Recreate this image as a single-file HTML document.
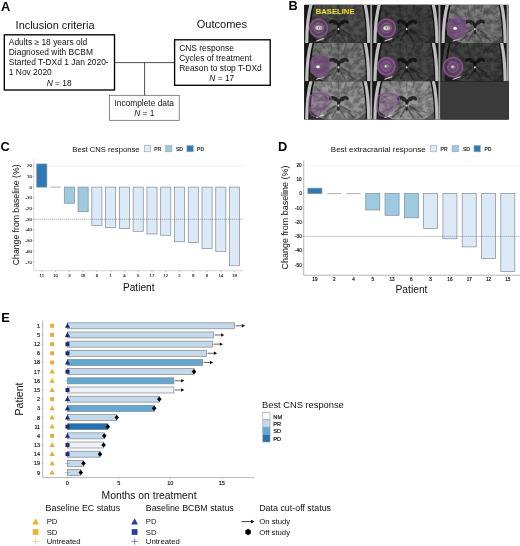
<!DOCTYPE html>
<html><head><meta charset="utf-8"><title>Figure</title>
<style>html,body{margin:0;padding:0;background:#fff}svg{display:block}text{font-family:"Liberation Sans",sans-serif}</style>
</head><body>
<svg width="520" height="546" viewBox="0 0 520 546">
<rect width="520" height="546" fill="#fff"/>
<text x="1.10" y="10.50" font-size="12.80" text-anchor="start" font-weight="bold" fill="#000">A</text>
<text x="15.60" y="28.50" font-size="10.93" text-anchor="start" fill="#111">Inclusion criteria</text>
<rect x="4.3" y="34.8" width="110.2" height="55.2" fill="none" stroke="#000" stroke-width="1.35"/>
<text x="8.80" y="44.90" font-size="8.42" text-anchor="start" fill="#111">Adults ≥ 18 years old</text>
<text x="8.80" y="54.90" font-size="8.42" text-anchor="start" fill="#111">Diagnosed with BCBM</text>
<text x="8.80" y="64.90" font-size="8.42" text-anchor="start" fill="#111">Started T-DXd 1 Jan 2020-</text>
<text x="8.80" y="74.90" font-size="8.42" text-anchor="start" fill="#111">1 Nov 2020</text>
<text x="59.2" y="85.5" font-size="8.42" text-anchor="middle" fill="#111"><tspan font-style="italic">N</tspan> = 18</text>
<path d="M114.5 62.6H174.6M144.6 62.6V95.3" stroke="#222" stroke-width="0.8" fill="none"/>
<rect x="109.5" y="95.3" width="69.7" height="25" fill="none" stroke="#555" stroke-width="0.7"/>
<text x="144.20" y="105.70" font-size="8.40" text-anchor="middle" fill="#111">Incomplete data</text>
<text x="144.3" y="115.7" font-size="8.42" text-anchor="middle" fill="#111"><tspan font-style="italic">N</tspan> = 1</text>
<text x="196.80" y="28.00" font-size="11.02" text-anchor="start" fill="#111">Outcomes</text>
<rect x="174.6" y="39.8" width="95.6" height="45.5" fill="none" stroke="#000" stroke-width="1.35"/>
<text x="179.20" y="50.60" font-size="8.42" text-anchor="start" fill="#111">CNS response</text>
<text x="179.20" y="60.65" font-size="8.42" text-anchor="start" fill="#111">Cycles of treatment</text>
<text x="179.20" y="70.70" font-size="8.42" text-anchor="start" fill="#111">Reason to stop T-DXd</text>
<text x="221.8" y="80.8" font-size="8.42" text-anchor="middle" fill="#111"><tspan font-style="italic">N</tspan> = 17</text>
<text x="288.40" y="9.70" font-size="12.80" text-anchor="start" font-weight="bold" fill="#000">B</text>
<defs><clipPath id="tc"><rect width="68.2" height="38.25"/></clipPath><filter id="bl" x="-5%" y="-5%" width="110%" height="110%"><feGaussianBlur stdDeviation="0.5"/></filter><filter id="nz0" x="0" y="0" width="100%" height="100%"><feTurbulence type="fractalNoise" baseFrequency="0.16 0.2" numOctaves="3" seed="2"/><feColorMatrix type="matrix" values="0 0 0 0 0 0 0 0 0 0 0 0 0 0 0 1.5 0 0 0 -0.45"/></filter><filter id="nz1" x="0" y="0" width="100%" height="100%"><feTurbulence type="fractalNoise" baseFrequency="0.16 0.2" numOctaves="3" seed="9"/><feColorMatrix type="matrix" values="0 0 0 0 0 0 0 0 0 0 0 0 0 0 0 1.5 0 0 0 -0.45"/></filter><filter id="nz2" x="0" y="0" width="100%" height="100%"><feTurbulence type="fractalNoise" baseFrequency="0.16 0.2" numOctaves="3" seed="16"/><feColorMatrix type="matrix" values="0 0 0 0 0 0 0 0 0 0 0 0 0 0 0 1.5 0 0 0 -0.45"/></filter></defs>
<rect x="304.2" y="4.8" width="204.6" height="114.75" fill="#161616"/>
<g transform="translate(304.20,4.80)" clip-path="url(#tc)"><rect width="68.2" height="38.25" fill="#161616"/><g filter="url(#bl)"><path d="M6.0 40.25Q6.2 14 10.5 -2H57.5Q61.6 14 61.8 40.25Z" fill="#525252"/><ellipse cx="22" cy="20" rx="9" ry="11" fill="#545454" opacity="0.6"/><ellipse cx="47" cy="20" rx="9" ry="11" fill="#545454" opacity="0.6"/><rect x="7" y="0" width="54" height="38.25" filter="url(#nz1)" opacity="0.5"/><path d="M17 0L21 5.5M26.5 0L28 6.5M34.3 0V9M42 0L40.5 6.5M51 1L47.5 6.5M11 5L15.5 9.5M57 6L53 10M9 14L14 16.5M59 15L54.5 17.5M58.5 25L53.5 25M9 31L14 29M24 9L26 12M44 9L42.5 12M55 32L50.5 30" stroke="#252525" stroke-width="1.1" fill="none" stroke-linecap="round" opacity="0.5"/><g transform="translate(34.6 18.6) scale(1.12 0.88) translate(-34.3 -18)" opacity="0.9"><path d="M34.3 17.8 Q33 14.5 29.5 13.6 Q26 13.3 25.4 16 Q25.3 18.3 26.8 18.8 Q27.8 17 29.3 17.6 Q30.3 19.8 31.8 19.3 Q32.8 19.5 33.3 22.5 L34.3 23 Z" fill="#141414"/><path d="M 34.3 17.8 Q 35.6 14.5 39.1 13.6 Q 42.6 13.3 43.2 16 Q 43.3 18.3 41.8 18.8 Q 40.8 17 39.3 17.6 Q 38.3 19.8 36.8 19.3 Q 35.8 19.5 35.3 22.5 L 34.3 23 Z" fill="#141414"/></g><path d="M34.3 19.5V28.5" stroke="#141414" stroke-width="2.2" fill="none" stroke-linecap="round" opacity="0.9"/><path d="M33 27.5L28 35.5M35.6 27.5L41 36.5M31.5 24.5L23 30M37 24.5L46.5 30.5M26 31L20 36M44 31L50 36" stroke="#141414" stroke-width="1.5" fill="none" stroke-linecap="round" opacity="0.45"/><ellipse cx="34.3" cy="24.3" rx="0.9" ry="1.2" fill="#d0d0d0"/><path d="M2.5 39.25Q2.7 14 7 -1" stroke="#bfbfbf" stroke-width="3.2" fill="none"/><path d="M64.6 39.25Q64.4 14 60.8 -1" stroke="#bfbfbf" stroke-width="3.2" fill="none"/><path d="M67.2 39.25V-1" stroke="#a2a2a2" stroke-width="2.2" fill="none"/><path d="M6 29Q12 36 24 39.25H6Z" fill="#141414" opacity="0.8"/><path d="M12.5 36.2L19.5 33.6" stroke="#cfcfcf" stroke-width="1.1" stroke-linecap="round"/><path d="M62 31Q56 36 50 39.25H62Z" fill="#141414" opacity="0.45"/><circle cx="14.5" cy="23.2" r="8.9" fill="#6e4a76" fill-opacity="0.55" stroke="#96509a" stroke-width="1.3" stroke-opacity="0.9"/><circle cx="14.5" cy="23.2" r="4.9" fill="#7a5a80" fill-opacity="0.5" stroke="#a868ac" stroke-width="0.8" opacity="0.85"/><ellipse cx="14.7" cy="23.0" rx="3.7" ry="2.5" fill="#a8aca4"/><ellipse cx="13.9" cy="23.3" rx="1.9" ry="1.5" fill="#e8ece0"/><circle cx="14.3" cy="23.2" r="0.75" fill="#2a3a2a"/></g></g>
<g transform="translate(372.40,4.80)" clip-path="url(#tc)"><rect width="68.2" height="38.25" fill="#161616"/><g filter="url(#bl)"><path d="M6.0 40.25Q6.2 14 10.5 -2H57.5Q61.6 14 61.8 40.25Z" fill="#434343"/><ellipse cx="22" cy="20" rx="9" ry="11" fill="#464646" opacity="0.6"/><ellipse cx="47" cy="20" rx="9" ry="11" fill="#464646" opacity="0.6"/><rect x="7" y="0" width="54" height="38.25" filter="url(#nz2)" opacity="0.5"/><path d="M17 0L21 5.5M26.5 0L28 6.5M34.3 0V9M42 0L40.5 6.5M51 1L47.5 6.5M11 5L15.5 9.5M57 6L53 10M9 14L14 16.5M59 15L54.5 17.5M58.5 25L53.5 25M9 31L14 29M24 9L26 12M44 9L42.5 12M55 32L50.5 30" stroke="#1e1e1e" stroke-width="1.1" fill="none" stroke-linecap="round" opacity="0.5"/><g transform="translate(34.6 18.6) scale(1.12 0.88) translate(-34.3 -18)" opacity="0.9"><path d="M34.3 17.8 Q33 14.5 29.5 13.6 Q26 13.3 25.4 16 Q25.3 18.3 26.8 18.8 Q27.8 17 29.3 17.6 Q30.3 19.8 31.8 19.3 Q32.8 19.5 33.3 22.5 L34.3 23 Z" fill="#101010"/><path d="M 34.3 17.8 Q 35.6 14.5 39.1 13.6 Q 42.6 13.3 43.2 16 Q 43.3 18.3 41.8 18.8 Q 40.8 17 39.3 17.6 Q 38.3 19.8 36.8 19.3 Q 35.8 19.5 35.3 22.5 L 34.3 23 Z" fill="#101010"/></g><path d="M34.3 19.5V28.5" stroke="#101010" stroke-width="2.2" fill="none" stroke-linecap="round" opacity="0.9"/><path d="M33 27.5L28 35.5M35.6 27.5L41 36.5M31.5 24.5L23 30M37 24.5L46.5 30.5M26 31L20 36M44 31L50 36" stroke="#101010" stroke-width="1.5" fill="none" stroke-linecap="round" opacity="0.45"/><ellipse cx="34.3" cy="24.3" rx="0.9" ry="1.2" fill="#d0d0d0"/><path d="M2.5 39.25Q2.7 14 7 -1" stroke="#bfbfbf" stroke-width="3.2" fill="none"/><path d="M64.6 39.25Q64.4 14 60.8 -1" stroke="#bfbfbf" stroke-width="3.2" fill="none"/><path d="M67.2 39.25V-1" stroke="#a2a2a2" stroke-width="2.2" fill="none"/><path d="M6 29Q12 36 24 39.25H6Z" fill="#141414" opacity="0.8"/><path d="M12.5 36.2L19.5 33.6" stroke="#cfcfcf" stroke-width="1.1" stroke-linecap="round"/><path d="M62 31Q56 36 50 39.25H62Z" fill="#141414" opacity="0.45"/><circle cx="14.1" cy="23.3" r="9.0" fill="#6e4a76" fill-opacity="0.6" stroke="#96509a" stroke-width="1.5" stroke-opacity="0.9"/><circle cx="14.1" cy="23.3" r="5.0" fill="#7a5a80" fill-opacity="0.5" stroke="#a868ac" stroke-width="0.8" opacity="0.85"/><ellipse cx="14.299999999999999" cy="23.1" rx="3.7" ry="2.5" fill="#a8aca4"/><ellipse cx="13.5" cy="23.400000000000002" rx="1.9" ry="1.5" fill="#e8ece0"/><circle cx="13.9" cy="23.3" r="0.75" fill="#2a3a2a"/></g></g>
<g transform="translate(440.60,4.80)" clip-path="url(#tc)"><rect width="68.2" height="38.25" fill="#161616"/><g filter="url(#bl)"><path d="M6.0 40.25Q6.2 14 10.5 -2H57.5Q61.6 14 61.8 40.25Z" fill="#7f7f7f"/><ellipse cx="22" cy="20" rx="9" ry="11" fill="#7c7c7c" opacity="0.6"/><ellipse cx="47" cy="20" rx="9" ry="11" fill="#7c7c7c" opacity="0.6"/><rect x="7" y="0" width="54" height="38.25" filter="url(#nz0)" opacity="0.5"/><path d="M17 0L21 5.5M26.5 0L28 6.5M34.3 0V9M42 0L40.5 6.5M51 1L47.5 6.5M11 5L15.5 9.5M57 6L53 10M9 14L14 16.5M59 15L54.5 17.5M58.5 25L53.5 25M9 31L14 29M24 9L26 12M44 9L42.5 12M55 32L50.5 30" stroke="#393939" stroke-width="1.1" fill="none" stroke-linecap="round" opacity="0.5"/><g transform="translate(34.6 18.6) scale(1.12 0.88) translate(-34.3 -18)" opacity="0.9"><path d="M34.3 17.8 Q33 14.5 29.5 13.6 Q26 13.3 25.4 16 Q25.3 18.3 26.8 18.8 Q27.8 17 29.3 17.6 Q30.3 19.8 31.8 19.3 Q32.8 19.5 33.3 22.5 L34.3 23 Z" fill="#1e1e1e"/><path d="M 34.3 17.8 Q 35.6 14.5 39.1 13.6 Q 42.6 13.3 43.2 16 Q 43.3 18.3 41.8 18.8 Q 40.8 17 39.3 17.6 Q 38.3 19.8 36.8 19.3 Q 35.8 19.5 35.3 22.5 L 34.3 23 Z" fill="#1e1e1e"/></g><path d="M34.3 19.5V28.5" stroke="#1e1e1e" stroke-width="2.2" fill="none" stroke-linecap="round" opacity="0.9"/><path d="M33 27.5L28 35.5M35.6 27.5L41 36.5M31.5 24.5L23 30M37 24.5L46.5 30.5M26 31L20 36M44 31L50 36" stroke="#1e1e1e" stroke-width="1.5" fill="none" stroke-linecap="round" opacity="0.45"/><ellipse cx="34.3" cy="24.3" rx="0.9" ry="1.2" fill="#d0d0d0"/><path d="M2.5 39.25Q2.7 14 7 -1" stroke="#bfbfbf" stroke-width="3.2" fill="none"/><path d="M64.6 39.25Q64.4 14 60.8 -1" stroke="#bfbfbf" stroke-width="3.2" fill="none"/><path d="M67.2 39.25V-1" stroke="#a2a2a2" stroke-width="2.2" fill="none"/><path d="M6 29Q12 36 24 39.25H6Z" fill="#141414" opacity="0.8"/><path d="M12.5 36.2L19.5 33.6" stroke="#cfcfcf" stroke-width="1.1" stroke-linecap="round"/><path d="M62 31Q56 36 50 39.25H62Z" fill="#141414" opacity="0.45"/><path d="M6 21Q7 14 14 13Q22 12 25 17Q27 23 24.5 29Q21 35 14 34.5Q6.5 32 6 21Z" fill="#74457f" fill-opacity="0.6" stroke="#8a4c92" stroke-width="0.9" stroke-opacity="0.6"/><path d="M10 21Q14 17 19 19M10 27Q15 30 20 26" stroke="#6a3a70" stroke-width="1" fill="none" opacity="0.5"/><ellipse cx="14.5" cy="23.5" rx="1.9" ry="1.5" fill="#f0f0e8"/></g></g>
<g transform="translate(304.20,43.05)" clip-path="url(#tc)"><rect width="68.2" height="38.25" fill="#161616"/><g filter="url(#bl)"><path d="M6.0 40.25Q6.2 14 10.5 -2H57.5Q61.6 14 61.8 40.25Z" fill="#7f7f7f"/><ellipse cx="22" cy="20" rx="9" ry="11" fill="#7c7c7c" opacity="0.6"/><ellipse cx="47" cy="20" rx="9" ry="11" fill="#7c7c7c" opacity="0.6"/><rect x="7" y="0" width="54" height="38.25" filter="url(#nz1)" opacity="0.5"/><path d="M17 0L21 5.5M26.5 0L28 6.5M34.3 0V9M42 0L40.5 6.5M51 1L47.5 6.5M11 5L15.5 9.5M57 6L53 10M9 14L14 16.5M59 15L54.5 17.5M58.5 25L53.5 25M9 31L14 29M24 9L26 12M44 9L42.5 12M55 32L50.5 30" stroke="#393939" stroke-width="1.1" fill="none" stroke-linecap="round" opacity="0.5"/><g transform="translate(34.6 18.6) scale(1.12 0.88) translate(-34.3 -18)" opacity="0.9"><path d="M34.3 17.8 Q33 14.5 29.5 13.6 Q26 13.3 25.4 16 Q25.3 18.3 26.8 18.8 Q27.8 17 29.3 17.6 Q30.3 19.8 31.8 19.3 Q32.8 19.5 33.3 22.5 L34.3 23 Z" fill="#1e1e1e"/><path d="M 34.3 17.8 Q 35.6 14.5 39.1 13.6 Q 42.6 13.3 43.2 16 Q 43.3 18.3 41.8 18.8 Q 40.8 17 39.3 17.6 Q 38.3 19.8 36.8 19.3 Q 35.8 19.5 35.3 22.5 L 34.3 23 Z" fill="#1e1e1e"/></g><path d="M34.3 19.5V28.5" stroke="#1e1e1e" stroke-width="2.2" fill="none" stroke-linecap="round" opacity="0.9"/><path d="M33 27.5L28 35.5M35.6 27.5L41 36.5M31.5 24.5L23 30M37 24.5L46.5 30.5M26 31L20 36M44 31L50 36" stroke="#1e1e1e" stroke-width="1.5" fill="none" stroke-linecap="round" opacity="0.45"/><ellipse cx="34.3" cy="24.3" rx="0.9" ry="1.2" fill="#d0d0d0"/><path d="M2.5 39.25Q2.7 14 7 -1" stroke="#bfbfbf" stroke-width="3.2" fill="none"/><path d="M64.6 39.25Q64.4 14 60.8 -1" stroke="#bfbfbf" stroke-width="3.2" fill="none"/><path d="M67.2 39.25V-1" stroke="#a2a2a2" stroke-width="2.2" fill="none"/><path d="M6 29Q12 36 24 39.25H6Z" fill="#141414" opacity="0.8"/><path d="M12.5 36.2L19.5 33.6" stroke="#cfcfcf" stroke-width="1.1" stroke-linecap="round"/><path d="M62 31Q56 36 50 39.25H62Z" fill="#141414" opacity="0.45"/><path d="M6 21Q7 14 14 13Q22 12 25 17Q27 23 24.5 29Q21 35 14 34.5Q6.5 32 6 21Z" fill="#74457f" fill-opacity="0.62" stroke="#8a4c92" stroke-width="0.9" stroke-opacity="0.6"/><path d="M10 21Q14 17 19 19M10 27Q15 30 20 26" stroke="#6a3a70" stroke-width="1" fill="none" opacity="0.5"/><ellipse cx="13.8" cy="23.8" rx="1.9" ry="1.5" fill="#f0f0e8"/></g></g>
<g transform="translate(372.40,43.05)" clip-path="url(#tc)"><rect width="68.2" height="38.25" fill="#161616"/><g filter="url(#bl)"><path d="M6.0 40.25Q6.2 14 10.5 -2H57.5Q61.6 14 61.8 40.25Z" fill="#494949"/><ellipse cx="22" cy="20" rx="9" ry="11" fill="#4c4c4c" opacity="0.6"/><ellipse cx="47" cy="20" rx="9" ry="11" fill="#4c4c4c" opacity="0.6"/><rect x="7" y="0" width="54" height="38.25" filter="url(#nz2)" opacity="0.5"/><path d="M17 0L21 5.5M26.5 0L28 6.5M34.3 0V9M42 0L40.5 6.5M51 1L47.5 6.5M11 5L15.5 9.5M57 6L53 10M9 14L14 16.5M59 15L54.5 17.5M58.5 25L53.5 25M9 31L14 29M24 9L26 12M44 9L42.5 12M55 32L50.5 30" stroke="#212121" stroke-width="1.1" fill="none" stroke-linecap="round" opacity="0.5"/><g transform="translate(34.6 18.6) scale(1.12 0.88) translate(-34.3 -18)" opacity="0.9"><path d="M34.3 17.8 Q33 14.5 29.5 13.6 Q26 13.3 25.4 16 Q25.3 18.3 26.8 18.8 Q27.8 17 29.3 17.6 Q30.3 19.8 31.8 19.3 Q32.8 19.5 33.3 22.5 L34.3 23 Z" fill="#121212"/><path d="M 34.3 17.8 Q 35.6 14.5 39.1 13.6 Q 42.6 13.3 43.2 16 Q 43.3 18.3 41.8 18.8 Q 40.8 17 39.3 17.6 Q 38.3 19.8 36.8 19.3 Q 35.8 19.5 35.3 22.5 L 34.3 23 Z" fill="#121212"/></g><path d="M34.3 19.5V28.5" stroke="#121212" stroke-width="2.2" fill="none" stroke-linecap="round" opacity="0.9"/><path d="M33 27.5L28 35.5M35.6 27.5L41 36.5M31.5 24.5L23 30M37 24.5L46.5 30.5M26 31L20 36M44 31L50 36" stroke="#121212" stroke-width="1.5" fill="none" stroke-linecap="round" opacity="0.45"/><ellipse cx="34.3" cy="24.3" rx="0.9" ry="1.2" fill="#d0d0d0"/><path d="M2.5 39.25Q2.7 14 7 -1" stroke="#bfbfbf" stroke-width="3.2" fill="none"/><path d="M64.6 39.25Q64.4 14 60.8 -1" stroke="#bfbfbf" stroke-width="3.2" fill="none"/><path d="M67.2 39.25V-1" stroke="#a2a2a2" stroke-width="2.2" fill="none"/><path d="M6 29Q12 36 24 39.25H6Z" fill="#141414" opacity="0.8"/><path d="M12.5 36.2L19.5 33.6" stroke="#cfcfcf" stroke-width="1.1" stroke-linecap="round"/><path d="M62 31Q56 36 50 39.25H62Z" fill="#141414" opacity="0.45"/><circle cx="13.9" cy="23.3" r="8.6" fill="#6e4a76" fill-opacity="0.7" stroke="#96509a" stroke-width="1.8" stroke-opacity="0.9"/><circle cx="13.9" cy="23.3" r="4.7" fill="#7a5a80" fill-opacity="0.5" stroke="#a868ac" stroke-width="0.8" opacity="0.85"/><ellipse cx="13.9" cy="23.3" rx="2.6" ry="2.0" fill="#7c8478"/><ellipse cx="13.4" cy="23.0" rx="1.0" ry="0.9" fill="#e8ece0"/></g></g>
<g transform="translate(440.60,43.05)" clip-path="url(#tc)"><rect width="68.2" height="38.25" fill="#161616"/><g filter="url(#bl)"><path d="M6.0 40.25Q6.2 14 10.5 -2H57.5Q61.6 14 61.8 40.25Z" fill="#454545"/><ellipse cx="22" cy="20" rx="9" ry="11" fill="#484848" opacity="0.6"/><ellipse cx="47" cy="20" rx="9" ry="11" fill="#484848" opacity="0.6"/><rect x="7" y="0" width="54" height="38.25" filter="url(#nz0)" opacity="0.5"/><path d="M17 0L21 5.5M26.5 0L28 6.5M34.3 0V9M42 0L40.5 6.5M51 1L47.5 6.5M11 5L15.5 9.5M57 6L53 10M9 14L14 16.5M59 15L54.5 17.5M58.5 25L53.5 25M9 31L14 29M24 9L26 12M44 9L42.5 12M55 32L50.5 30" stroke="#1f1f1f" stroke-width="1.1" fill="none" stroke-linecap="round" opacity="0.5"/><g transform="translate(34.6 18.6) scale(1.12 0.88) translate(-34.3 -18)" opacity="0.9"><path d="M34.3 17.8 Q33 14.5 29.5 13.6 Q26 13.3 25.4 16 Q25.3 18.3 26.8 18.8 Q27.8 17 29.3 17.6 Q30.3 19.8 31.8 19.3 Q32.8 19.5 33.3 22.5 L34.3 23 Z" fill="#111111"/><path d="M 34.3 17.8 Q 35.6 14.5 39.1 13.6 Q 42.6 13.3 43.2 16 Q 43.3 18.3 41.8 18.8 Q 40.8 17 39.3 17.6 Q 38.3 19.8 36.8 19.3 Q 35.8 19.5 35.3 22.5 L 34.3 23 Z" fill="#111111"/></g><path d="M34.3 19.5V28.5" stroke="#111111" stroke-width="2.2" fill="none" stroke-linecap="round" opacity="0.9"/><path d="M33 27.5L28 35.5M35.6 27.5L41 36.5M31.5 24.5L23 30M37 24.5L46.5 30.5M26 31L20 36M44 31L50 36" stroke="#111111" stroke-width="1.5" fill="none" stroke-linecap="round" opacity="0.45"/><ellipse cx="34.3" cy="24.3" rx="0.9" ry="1.2" fill="#d0d0d0"/><path d="M2.5 39.25Q2.7 14 7 -1" stroke="#3f3f3f" stroke-width="3.2" fill="none"/><path d="M64.6 39.25Q64.4 14 60.8 -1" stroke="#bfbfbf" stroke-width="3.2" fill="none"/><path d="M67.2 39.25V-1" stroke="#a2a2a2" stroke-width="2.2" fill="none"/><path d="M6 29Q12 36 24 39.25H6Z" fill="#141414" opacity="0.8"/><path d="M12.5 36.2L19.5 33.6" stroke="#cfcfcf" stroke-width="1.1" stroke-linecap="round"/><path d="M62 31Q56 36 50 39.25H62Z" fill="#141414" opacity="0.45"/><circle cx="12.4" cy="24" r="9.6" fill="#6e4a76" fill-opacity="0.55" stroke="#96509a" stroke-width="1.6" stroke-opacity="0.9"/><circle cx="12.4" cy="24" r="5.3" fill="#7a5a80" fill-opacity="0.5" stroke="#a868ac" stroke-width="0.8" opacity="0.85"/><ellipse cx="12.4" cy="24" rx="2.6" ry="2.0" fill="#7c8478"/><ellipse cx="11.9" cy="23.7" rx="1.0" ry="0.9" fill="#e8ece0"/></g></g>
<g transform="translate(304.20,81.30)" clip-path="url(#tc)"><rect width="68.2" height="38.25" fill="#161616"/><g filter="url(#bl)"><path d="M6.0 40.25Q6.2 14 10.5 -2H57.5Q61.6 14 61.8 40.25Z" fill="#989898"/><ellipse cx="22" cy="20" rx="9" ry="11" fill="#929292" opacity="0.6"/><ellipse cx="47" cy="20" rx="9" ry="11" fill="#929292" opacity="0.6"/><rect x="7" y="0" width="54" height="38.25" filter="url(#nz1)" opacity="0.5"/><path d="M17 0L21 5.5M26.5 0L28 6.5M34.3 0V9M42 0L40.5 6.5M51 1L47.5 6.5M11 5L15.5 9.5M57 6L53 10M9 14L14 16.5M59 15L54.5 17.5M58.5 25L53.5 25M9 31L14 29M24 9L26 12M44 9L42.5 12M55 32L50.5 30" stroke="#444444" stroke-width="1.1" fill="none" stroke-linecap="round" opacity="0.5"/><g transform="translate(34.6 18.6) scale(1.12 0.88) translate(-34.3 -18)" opacity="0.9"><path d="M34.3 17.8 Q33 14.5 29.5 13.6 Q26 13.3 25.4 16 Q25.3 18.3 26.8 18.8 Q27.8 17 29.3 17.6 Q30.3 19.8 31.8 19.3 Q32.8 19.5 33.3 22.5 L34.3 23 Z" fill="#1e1e1e"/><path d="M 34.3 17.8 Q 35.6 14.5 39.1 13.6 Q 42.6 13.3 43.2 16 Q 43.3 18.3 41.8 18.8 Q 40.8 17 39.3 17.6 Q 38.3 19.8 36.8 19.3 Q 35.8 19.5 35.3 22.5 L 34.3 23 Z" fill="#1e1e1e"/></g><path d="M34.3 19.5V28.5" stroke="#1e1e1e" stroke-width="2.2" fill="none" stroke-linecap="round" opacity="0.9"/><path d="M33 27.5L28 35.5M35.6 27.5L41 36.5M31.5 24.5L23 30M37 24.5L46.5 30.5M26 31L20 36M44 31L50 36" stroke="#1e1e1e" stroke-width="1.5" fill="none" stroke-linecap="round" opacity="0.45"/><ellipse cx="34.3" cy="24.3" rx="0.9" ry="1.2" fill="#d0d0d0"/><path d="M2.5 39.25Q2.7 14 7 -1" stroke="#bfbfbf" stroke-width="3.2" fill="none"/><path d="M64.6 39.25Q64.4 14 60.8 -1" stroke="#bfbfbf" stroke-width="3.2" fill="none"/><path d="M67.2 39.25V-1" stroke="#a2a2a2" stroke-width="2.2" fill="none"/><path d="M6 29Q12 36 24 39.25H6Z" fill="#141414" opacity="0.8"/><path d="M12.5 36.2L19.5 33.6" stroke="#cfcfcf" stroke-width="1.1" stroke-linecap="round"/><path d="M62 31Q56 36 50 39.25H62Z" fill="#141414" opacity="0.45"/><path d="M6 14.2Q14 10.5 22.1 12.8Q27 14.5 27.2 18.6Q27 21.5 25 23Q20 25 17.7 28.1Q16 31 14.8 34.7Q11 36 7.5 34Q4.5 30 4.6 24.5Q4.6 18 6 14.2Z" fill="#8a5494" fill-opacity="0.28" stroke="#8a4c92" stroke-width="1.2" stroke-opacity="0.85"/><path d="M10 21Q14 17 19 19M10 27Q15 30 20 26" stroke="#6a3a70" stroke-width="1" fill="none" opacity="0.5"/></g></g>
<g transform="translate(372.40,81.30)" clip-path="url(#tc)"><rect width="68.2" height="38.25" fill="#161616"/><g filter="url(#bl)"><path d="M6.0 40.25Q6.2 14 10.5 -2H57.5Q61.6 14 61.8 40.25Z" fill="#9a9a9a"/><ellipse cx="22" cy="20" rx="9" ry="11" fill="#949494" opacity="0.6"/><ellipse cx="47" cy="20" rx="9" ry="11" fill="#949494" opacity="0.6"/><rect x="7" y="0" width="54" height="38.25" filter="url(#nz2)" opacity="0.5"/><path d="M17 0L21 5.5M26.5 0L28 6.5M34.3 0V9M42 0L40.5 6.5M51 1L47.5 6.5M11 5L15.5 9.5M57 6L53 10M9 14L14 16.5M59 15L54.5 17.5M58.5 25L53.5 25M9 31L14 29M24 9L26 12M44 9L42.5 12M55 32L50.5 30" stroke="#454545" stroke-width="1.1" fill="none" stroke-linecap="round" opacity="0.5"/><g transform="translate(34.6 18.6) scale(1.12 0.88) translate(-34.3 -18)" opacity="0.9"><path d="M34.3 17.8 Q33 14.5 29.5 13.6 Q26 13.3 25.4 16 Q25.3 18.3 26.8 18.8 Q27.8 17 29.3 17.6 Q30.3 19.8 31.8 19.3 Q32.8 19.5 33.3 22.5 L34.3 23 Z" fill="#1e1e1e"/><path d="M 34.3 17.8 Q 35.6 14.5 39.1 13.6 Q 42.6 13.3 43.2 16 Q 43.3 18.3 41.8 18.8 Q 40.8 17 39.3 17.6 Q 38.3 19.8 36.8 19.3 Q 35.8 19.5 35.3 22.5 L 34.3 23 Z" fill="#1e1e1e"/></g><path d="M34.3 19.5V28.5" stroke="#1e1e1e" stroke-width="2.2" fill="none" stroke-linecap="round" opacity="0.9"/><path d="M33 27.5L28 35.5M35.6 27.5L41 36.5M31.5 24.5L23 30M37 24.5L46.5 30.5M26 31L20 36M44 31L50 36" stroke="#1e1e1e" stroke-width="1.5" fill="none" stroke-linecap="round" opacity="0.45"/><ellipse cx="34.3" cy="24.3" rx="0.9" ry="1.2" fill="#d0d0d0"/><path d="M2.5 39.25Q2.7 14 7 -1" stroke="#bfbfbf" stroke-width="3.2" fill="none"/><path d="M64.6 39.25Q64.4 14 60.8 -1" stroke="#bfbfbf" stroke-width="3.2" fill="none"/><path d="M67.2 39.25V-1" stroke="#a2a2a2" stroke-width="2.2" fill="none"/><path d="M6 29Q12 36 24 39.25H6Z" fill="#141414" opacity="0.8"/><path d="M12.5 36.2L19.5 33.6" stroke="#cfcfcf" stroke-width="1.1" stroke-linecap="round"/><path d="M62 31Q56 36 50 39.25H62Z" fill="#141414" opacity="0.45"/><path d="M6 14.2Q14 10.5 22.1 12.8Q27 14.5 27.2 18.6Q27 21.5 25 23Q20 25 17.7 28.1Q16 31 14.8 34.7Q11 36 7.5 34Q4.5 30 4.6 24.5Q4.6 18 6 14.2Z" fill="#8a5494" fill-opacity="0.28" stroke="#8a4c92" stroke-width="1.2" stroke-opacity="0.85"/><path d="M10 21Q14 17 19 19M10 27Q15 30 20 26" stroke="#6a3a70" stroke-width="1" fill="none" opacity="0.5"/></g></g>
<g transform="translate(440.60,81.30)" clip-path="url(#tc)"><rect width="68.2" height="38.25" fill="#161616"/><rect width="68.2" height="38.25" fill="#3a3a3a"/></g>
<text x="315.80" y="14.00" font-size="7.67" text-anchor="start" font-weight="bold" fill="#efe03a">BASELINE</text>
<text x="0.60" y="151.40" font-size="12.80" text-anchor="start" font-weight="bold" fill="#000">C</text>
<text x="72.30" y="152.20" font-size="7.66" text-anchor="start" fill="#111">Best CNS response</text>
<rect x="144.4" y="145.6" width="6.3" height="6.2" fill="#dce9f6" stroke="#93a4b5" stroke-width="0.6"/>
<text x="154.30" y="150.50" font-size="5.00" text-anchor="start" fill="#111" stroke="#1a1a1a" stroke-width="0.15">PR</text>
<rect x="165.6" y="145.6" width="6.3" height="6.2" fill="#9ecae1" stroke="#93a4b5" stroke-width="0.6"/>
<text x="175.90" y="150.50" font-size="5.00" text-anchor="start" fill="#111" stroke="#1a1a1a" stroke-width="0.15">SD</text>
<rect x="186.9" y="145.6" width="6.3" height="6.2" fill="#2c7bb6" stroke="#93a4b5" stroke-width="0.6"/>
<text x="197.10" y="150.50" font-size="5.00" text-anchor="start" fill="#111" stroke="#1a1a1a" stroke-width="0.15">PD</text>
<path d="M33.8 166.2H242.8" stroke="#cfcfcf" stroke-width="0.6" stroke-dasharray="0.8 1.2" fill="none"/>
<path d="M33.8 159.5V270.7H242.8" stroke="#c4c4c4" stroke-width="0.7" fill="none"/>
<path d="M32.5 165.70H33.8" stroke="#999" stroke-width="0.5"/>
<text x="31.80" y="167.25" font-size="4.30" text-anchor="end" fill="#222" stroke="#222" stroke-width="0.12">20</text>
<path d="M32.5 176.40H33.8" stroke="#999" stroke-width="0.5"/>
<text x="31.80" y="177.95" font-size="4.30" text-anchor="end" fill="#222" stroke="#222" stroke-width="0.12">10</text>
<path d="M32.5 187.10H33.8" stroke="#999" stroke-width="0.5"/>
<text x="31.80" y="188.65" font-size="4.30" text-anchor="end" fill="#222" stroke="#222" stroke-width="0.12">0</text>
<path d="M32.5 197.80H33.8" stroke="#999" stroke-width="0.5"/>
<text x="31.80" y="199.35" font-size="4.30" text-anchor="end" fill="#222" stroke="#222" stroke-width="0.12">-10</text>
<path d="M32.5 208.50H33.8" stroke="#999" stroke-width="0.5"/>
<text x="31.80" y="210.05" font-size="4.30" text-anchor="end" fill="#222" stroke="#222" stroke-width="0.12">-20</text>
<path d="M32.5 219.20H33.8" stroke="#999" stroke-width="0.5"/>
<text x="31.80" y="220.75" font-size="4.30" text-anchor="end" fill="#222" stroke="#222" stroke-width="0.12">-30</text>
<path d="M32.5 229.90H33.8" stroke="#999" stroke-width="0.5"/>
<text x="31.80" y="231.45" font-size="4.30" text-anchor="end" fill="#222" stroke="#222" stroke-width="0.12">-40</text>
<path d="M32.5 240.60H33.8" stroke="#999" stroke-width="0.5"/>
<text x="31.80" y="242.15" font-size="4.30" text-anchor="end" fill="#222" stroke="#222" stroke-width="0.12">-50</text>
<path d="M32.5 251.30H33.8" stroke="#999" stroke-width="0.5"/>
<text x="31.80" y="252.85" font-size="4.30" text-anchor="end" fill="#222" stroke="#222" stroke-width="0.12">-60</text>
<path d="M32.5 262.00H33.8" stroke="#999" stroke-width="0.5"/>
<text x="31.80" y="263.55" font-size="4.30" text-anchor="end" fill="#222" stroke="#222" stroke-width="0.12">-70</text>
<rect x="36.75" y="163.99" width="10.10" height="23.11" fill="#2c7bb6" stroke="#7f8a96" stroke-width="0.7"/>
<path d="M41.80 270.7v1.3" stroke="#999" stroke-width="0.5"/>
<text x="41.80" y="277.00" font-size="4.30" text-anchor="middle" fill="#222" stroke="#222" stroke-width="0.12">11</text>
<path d="M50.52 187.1H60.62" stroke="#8a8a8a" stroke-width="0.7"/>
<path d="M55.57 270.7v1.3" stroke="#999" stroke-width="0.5"/>
<text x="55.57" y="277.00" font-size="4.30" text-anchor="middle" fill="#222" stroke="#222" stroke-width="0.12">10</text>
<rect x="64.29" y="187.10" width="10.10" height="16.16" fill="#9ecae1" stroke="#7f8a96" stroke-width="0.7"/>
<path d="M69.34 270.7v1.3" stroke="#999" stroke-width="0.5"/>
<text x="69.34" y="277.00" font-size="4.30" text-anchor="middle" fill="#222" stroke="#222" stroke-width="0.12">3</text>
<rect x="78.06" y="187.10" width="10.10" height="24.61" fill="#9ecae1" stroke="#7f8a96" stroke-width="0.7"/>
<path d="M83.11 270.7v1.3" stroke="#999" stroke-width="0.5"/>
<text x="83.11" y="277.00" font-size="4.30" text-anchor="middle" fill="#222" stroke="#222" stroke-width="0.12">18</text>
<rect x="91.83" y="187.10" width="10.10" height="38.41" fill="#dce9f6" stroke="#7f8a96" stroke-width="0.7"/>
<path d="M96.88 270.7v1.3" stroke="#999" stroke-width="0.5"/>
<text x="96.88" y="277.00" font-size="4.30" text-anchor="middle" fill="#222" stroke="#222" stroke-width="0.12">6</text>
<rect x="105.60" y="187.10" width="10.10" height="40.34" fill="#dce9f6" stroke="#7f8a96" stroke-width="0.7"/>
<path d="M110.65 270.7v1.3" stroke="#999" stroke-width="0.5"/>
<text x="110.65" y="277.00" font-size="4.30" text-anchor="middle" fill="#222" stroke="#222" stroke-width="0.12">1</text>
<rect x="119.37" y="187.10" width="10.10" height="41.30" fill="#dce9f6" stroke="#7f8a96" stroke-width="0.7"/>
<path d="M124.42 270.7v1.3" stroke="#999" stroke-width="0.5"/>
<text x="124.42" y="277.00" font-size="4.30" text-anchor="middle" fill="#222" stroke="#222" stroke-width="0.12">4</text>
<rect x="133.14" y="187.10" width="10.10" height="44.19" fill="#dce9f6" stroke="#7f8a96" stroke-width="0.7"/>
<path d="M138.19 270.7v1.3" stroke="#999" stroke-width="0.5"/>
<text x="138.19" y="277.00" font-size="4.30" text-anchor="middle" fill="#222" stroke="#222" stroke-width="0.12">5</text>
<rect x="146.91" y="187.10" width="10.10" height="46.87" fill="#dce9f6" stroke="#7f8a96" stroke-width="0.7"/>
<path d="M151.96 270.7v1.3" stroke="#999" stroke-width="0.5"/>
<text x="151.96" y="277.00" font-size="4.30" text-anchor="middle" fill="#222" stroke="#222" stroke-width="0.12">17</text>
<rect x="160.68" y="187.10" width="10.10" height="48.15" fill="#dce9f6" stroke="#7f8a96" stroke-width="0.7"/>
<path d="M165.73 270.7v1.3" stroke="#999" stroke-width="0.5"/>
<text x="165.73" y="277.00" font-size="4.30" text-anchor="middle" fill="#222" stroke="#222" stroke-width="0.12">12</text>
<rect x="174.45" y="187.10" width="10.10" height="54.68" fill="#dce9f6" stroke="#7f8a96" stroke-width="0.7"/>
<path d="M179.50 270.7v1.3" stroke="#999" stroke-width="0.5"/>
<text x="179.50" y="277.00" font-size="4.30" text-anchor="middle" fill="#222" stroke="#222" stroke-width="0.12">2</text>
<rect x="188.22" y="187.10" width="10.10" height="55.43" fill="#dce9f6" stroke="#7f8a96" stroke-width="0.7"/>
<path d="M193.27 270.7v1.3" stroke="#999" stroke-width="0.5"/>
<text x="193.27" y="277.00" font-size="4.30" text-anchor="middle" fill="#222" stroke="#222" stroke-width="0.12">9</text>
<rect x="201.99" y="187.10" width="10.10" height="61.42" fill="#dce9f6" stroke="#7f8a96" stroke-width="0.7"/>
<path d="M207.04 270.7v1.3" stroke="#999" stroke-width="0.5"/>
<text x="207.04" y="277.00" font-size="4.30" text-anchor="middle" fill="#222" stroke="#222" stroke-width="0.12">8</text>
<rect x="215.76" y="187.10" width="10.10" height="64.20" fill="#dce9f6" stroke="#7f8a96" stroke-width="0.7"/>
<path d="M220.81 270.7v1.3" stroke="#999" stroke-width="0.5"/>
<text x="220.81" y="277.00" font-size="4.30" text-anchor="middle" fill="#222" stroke="#222" stroke-width="0.12">14</text>
<rect x="229.53" y="187.10" width="10.10" height="78.65" fill="#dce9f6" stroke="#7f8a96" stroke-width="0.7"/>
<path d="M234.58 270.7v1.3" stroke="#999" stroke-width="0.5"/>
<text x="234.58" y="277.00" font-size="4.30" text-anchor="middle" fill="#222" stroke="#222" stroke-width="0.12">19</text>
<path d="M33.8 219.3H242.8" stroke="#4a4a4a" stroke-width="0.6" stroke-dasharray="0.9 1.1" fill="none"/>
<text x="123.00" y="290.50" font-size="10.12" text-anchor="start" fill="#111">Patient</text>
<text transform="translate(18.9,214.8) rotate(-90)" font-size="8.69" text-anchor="middle" fill="#111">Change from baseline (%)</text>
<text x="278.00" y="151.40" font-size="12.80" text-anchor="start" font-weight="bold" fill="#000">D</text>
<text x="330.80" y="152.20" font-size="8.02" text-anchor="start" fill="#111">Best extracranial response</text>
<rect x="430.3" y="145.6" width="6.3" height="6.2" fill="#dce9f6" stroke="#93a4b5" stroke-width="0.6"/>
<text x="440.60" y="150.50" font-size="5.00" text-anchor="start" fill="#111" stroke="#1a1a1a" stroke-width="0.15">PR</text>
<rect x="452.1" y="145.6" width="6.3" height="6.2" fill="#9ecae1" stroke="#93a4b5" stroke-width="0.6"/>
<text x="462.90" y="150.50" font-size="5.00" text-anchor="start" fill="#111" stroke="#1a1a1a" stroke-width="0.15">SD</text>
<rect x="474" y="145.6" width="6.3" height="6.2" fill="#2c7bb6" stroke="#93a4b5" stroke-width="0.6"/>
<text x="484.40" y="150.50" font-size="5.00" text-anchor="start" fill="#111" stroke="#1a1a1a" stroke-width="0.15">PD</text>
<path d="M303.7 165.2H520" stroke="#cfcfcf" stroke-width="0.6" stroke-dasharray="0.8 1.2" fill="none"/>
<path d="M303.7 160.3V275.2H520" stroke="#9a9a9a" stroke-width="0.7" fill="none"/>
<path d="M302.4 165.10H303.7" stroke="#999" stroke-width="0.5"/>
<text x="301.70" y="166.76" font-size="4.60" text-anchor="end" fill="#222" stroke="#222" stroke-width="0.2">20</text>
<path d="M302.4 179.35H303.7" stroke="#999" stroke-width="0.5"/>
<text x="301.70" y="181.01" font-size="4.60" text-anchor="end" fill="#222" stroke="#222" stroke-width="0.2">10</text>
<path d="M302.4 193.60H303.7" stroke="#999" stroke-width="0.5"/>
<text x="301.70" y="195.26" font-size="4.60" text-anchor="end" fill="#222" stroke="#222" stroke-width="0.2">0</text>
<path d="M302.4 207.85H303.7" stroke="#999" stroke-width="0.5"/>
<text x="301.70" y="209.51" font-size="4.60" text-anchor="end" fill="#222" stroke="#222" stroke-width="0.2">-10</text>
<path d="M302.4 222.10H303.7" stroke="#999" stroke-width="0.5"/>
<text x="301.70" y="223.76" font-size="4.60" text-anchor="end" fill="#222" stroke="#222" stroke-width="0.2">-20</text>
<path d="M302.4 236.35H303.7" stroke="#999" stroke-width="0.5"/>
<text x="301.70" y="238.01" font-size="4.60" text-anchor="end" fill="#222" stroke="#222" stroke-width="0.2">-30</text>
<path d="M302.4 250.60H303.7" stroke="#999" stroke-width="0.5"/>
<text x="301.70" y="252.26" font-size="4.60" text-anchor="end" fill="#222" stroke="#222" stroke-width="0.2">-40</text>
<path d="M302.4 264.85H303.7" stroke="#999" stroke-width="0.5"/>
<text x="301.70" y="266.51" font-size="4.60" text-anchor="end" fill="#222" stroke="#222" stroke-width="0.2">-50</text>
<rect x="307.90" y="188.19" width="14.00" height="5.41" fill="#2c7bb6" stroke="#7f8a96" stroke-width="0.7"/>
<path d="M314.90 275.2v1.3" stroke="#999" stroke-width="0.5"/>
<text x="314.90" y="281.30" font-size="4.60" text-anchor="middle" fill="#222" stroke="#222" stroke-width="0.2">19</text>
<path d="M327.19 193.6H341.19" stroke="#8a8a8a" stroke-width="0.7"/>
<path d="M334.19 275.2v1.3" stroke="#999" stroke-width="0.5"/>
<text x="334.19" y="281.30" font-size="4.60" text-anchor="middle" fill="#222" stroke="#222" stroke-width="0.2">2</text>
<path d="M346.48 193.6H360.48" stroke="#8a8a8a" stroke-width="0.7"/>
<path d="M353.48 275.2v1.3" stroke="#999" stroke-width="0.5"/>
<text x="353.48" y="281.30" font-size="4.60" text-anchor="middle" fill="#222" stroke="#222" stroke-width="0.2">4</text>
<rect x="365.77" y="193.60" width="14.00" height="16.39" fill="#9ecae1" stroke="#7f8a96" stroke-width="0.7"/>
<path d="M372.77 275.2v1.3" stroke="#999" stroke-width="0.5"/>
<text x="372.77" y="281.30" font-size="4.60" text-anchor="middle" fill="#222" stroke="#222" stroke-width="0.2">5</text>
<rect x="385.06" y="193.60" width="14.00" height="21.66" fill="#9ecae1" stroke="#7f8a96" stroke-width="0.7"/>
<path d="M392.06 275.2v1.3" stroke="#999" stroke-width="0.5"/>
<text x="392.06" y="281.30" font-size="4.60" text-anchor="middle" fill="#222" stroke="#222" stroke-width="0.2">13</text>
<rect x="404.35" y="193.60" width="14.00" height="24.22" fill="#9ecae1" stroke="#7f8a96" stroke-width="0.7"/>
<path d="M411.35 275.2v1.3" stroke="#999" stroke-width="0.5"/>
<text x="411.35" y="281.30" font-size="4.60" text-anchor="middle" fill="#222" stroke="#222" stroke-width="0.2">6</text>
<rect x="423.64" y="193.60" width="14.00" height="34.77" fill="#dce9f6" stroke="#7f8a96" stroke-width="0.7"/>
<path d="M430.64 275.2v1.3" stroke="#999" stroke-width="0.5"/>
<text x="430.64" y="281.30" font-size="4.60" text-anchor="middle" fill="#222" stroke="#222" stroke-width="0.2">3</text>
<rect x="442.93" y="193.60" width="14.00" height="45.17" fill="#dce9f6" stroke="#7f8a96" stroke-width="0.7"/>
<path d="M449.93 275.2v1.3" stroke="#999" stroke-width="0.5"/>
<text x="449.93" y="281.30" font-size="4.60" text-anchor="middle" fill="#222" stroke="#222" stroke-width="0.2">16</text>
<rect x="462.22" y="193.60" width="14.00" height="53.29" fill="#dce9f6" stroke="#7f8a96" stroke-width="0.7"/>
<path d="M469.22 275.2v1.3" stroke="#999" stroke-width="0.5"/>
<text x="469.22" y="281.30" font-size="4.60" text-anchor="middle" fill="#222" stroke="#222" stroke-width="0.2">17</text>
<rect x="481.51" y="193.60" width="14.00" height="64.84" fill="#dce9f6" stroke="#7f8a96" stroke-width="0.7"/>
<path d="M488.51 275.2v1.3" stroke="#999" stroke-width="0.5"/>
<text x="488.51" y="281.30" font-size="4.60" text-anchor="middle" fill="#222" stroke="#222" stroke-width="0.2">12</text>
<rect x="500.80" y="193.60" width="14.00" height="77.80" fill="#dce9f6" stroke="#7f8a96" stroke-width="0.7"/>
<path d="M507.80 275.2v1.3" stroke="#999" stroke-width="0.5"/>
<text x="507.80" y="281.30" font-size="4.60" text-anchor="middle" fill="#222" stroke="#222" stroke-width="0.2">15</text>
<path d="M303.7 236.4H520" stroke="#4a4a4a" stroke-width="0.6" stroke-dasharray="0.9 1.1" fill="none"/>
<text x="395.50" y="293.00" font-size="10.28" text-anchor="start" fill="#111">Patient</text>
<text transform="translate(287.7,217.5) rotate(-90)" font-size="8.95" text-anchor="middle" fill="#111">Change from baseline (%)</text>
<text x="1.20" y="322.20" font-size="12.80" text-anchor="start" font-weight="bold" fill="#000">E</text>
<path d="M42.7 320.4V477.6H254.5" stroke="#9a9a9a" stroke-width="0.7" fill="none"/>
<path d="M41.400000000000006 325.80H42.7" stroke="#999" stroke-width="0.5"/>
<text x="40.10" y="327.80" font-size="5.50" text-anchor="end" fill="#111" stroke="#111" stroke-width="0.15">1</text>
<rect x="67.5" y="322.80" width="167.10" height="6.0" fill="#c3d9ec" stroke="#858585" stroke-width="0.7"/>
<rect x="50.15" y="323.85" width="3.9" height="3.9" fill="#f2a72e"/>
<path d="M67.50 322.95L70.08 327.73H64.92Z" fill="#1f2a6e"/>
<path d="M235.50 325.80H243.60" stroke="#222" stroke-width="0.7"/><path d="M245.10 325.80l-3.2 -1.7v3.4Z" fill="#111"/>
<path d="M41.400000000000006 334.97H42.7" stroke="#999" stroke-width="0.5"/>
<text x="40.10" y="336.97" font-size="5.50" text-anchor="end" fill="#111" stroke="#111" stroke-width="0.15">5</text>
<rect x="67.5" y="331.97" width="146.30" height="6.0" fill="#c3d9ec" stroke="#858585" stroke-width="0.7"/>
<rect x="50.15" y="333.02" width="3.9" height="3.9" fill="#f2a72e"/>
<path d="M67.50 332.12L70.08 336.90H64.92Z" fill="#1f2a6e"/>
<path d="M214.70 334.97H222.80" stroke="#222" stroke-width="0.7"/><path d="M224.30 334.97l-3.2 -1.7v3.4Z" fill="#111"/>
<path d="M41.400000000000006 344.14H42.7" stroke="#999" stroke-width="0.5"/>
<text x="40.10" y="346.14" font-size="5.50" text-anchor="end" fill="#111" stroke="#111" stroke-width="0.15">12</text>
<rect x="67.5" y="341.14" width="145.00" height="6.0" fill="#c3d9ec" stroke="#858585" stroke-width="0.7"/>
<rect x="50.15" y="342.19" width="3.9" height="3.9" fill="#f2a72e"/>
<rect x="65.50" y="342.14" width="4.0" height="4.0" fill="#1f2a6e"/>
<path d="M213.40 344.14H221.50" stroke="#222" stroke-width="0.7"/><path d="M223.00 344.14l-3.2 -1.7v3.4Z" fill="#111"/>
<path d="M41.400000000000006 353.31H42.7" stroke="#999" stroke-width="0.5"/>
<text x="40.10" y="355.31" font-size="5.50" text-anchor="end" fill="#111" stroke="#111" stroke-width="0.15">6</text>
<rect x="67.5" y="350.31" width="139.10" height="6.0" fill="#c3d9ec" stroke="#858585" stroke-width="0.7"/>
<rect x="50.15" y="351.36" width="3.9" height="3.9" fill="#f2a72e"/>
<rect x="65.50" y="351.31" width="4.0" height="4.0" fill="#1f2a6e"/>
<path d="M207.50 353.31H215.60" stroke="#222" stroke-width="0.7"/><path d="M217.10 353.31l-3.2 -1.7v3.4Z" fill="#111"/>
<path d="M41.400000000000006 362.48H42.7" stroke="#999" stroke-width="0.5"/>
<text x="40.10" y="364.48" font-size="5.50" text-anchor="end" fill="#111" stroke="#111" stroke-width="0.15">18</text>
<rect x="67.5" y="359.48" width="135.20" height="6.0" fill="#62a8d6" stroke="#858585" stroke-width="0.7"/>
<rect x="50.15" y="360.53" width="3.9" height="3.9" fill="#f2a72e"/>
<path d="M67.50 359.63L70.08 364.41H64.92Z" fill="#1f2a6e"/>
<path d="M203.60 362.48H211.70" stroke="#222" stroke-width="0.7"/><path d="M213.20 362.48l-3.2 -1.7v3.4Z" fill="#111"/>
<path d="M41.400000000000006 371.65H42.7" stroke="#999" stroke-width="0.5"/>
<text x="40.10" y="373.65" font-size="5.50" text-anchor="end" fill="#111" stroke="#111" stroke-width="0.15">17</text>
<rect x="67.5" y="368.65" width="126.50" height="6.0" fill="#c3d9ec" stroke="#858585" stroke-width="0.7"/>
<path d="M52.10 368.80L54.68 373.58H49.52Z" fill="#f2a72e"/>
<rect x="65.50" y="369.65" width="4.0" height="4.0" fill="#1f2a6e"/>
<path d="M194.00 369.05l2.3 2.6l-2.3 2.6l-2.3 -2.6Z" fill="#000"/>
<path d="M41.400000000000006 380.82H42.7" stroke="#999" stroke-width="0.5"/>
<text x="40.10" y="382.82" font-size="5.50" text-anchor="end" fill="#111" stroke="#111" stroke-width="0.15">16</text>
<rect x="67.5" y="377.82" width="106.30" height="6.0" fill="#62a8d6" stroke="#858585" stroke-width="0.7"/>
<path d="M52.10 377.97L54.68 382.75H49.52Z" fill="#f2a72e"/>
<path d="M65.00 380.82h5.0M67.50 378.32v5.0" stroke="#7f9cc8" stroke-width="0.6" fill="none"/>
<path d="M174.70 380.82H182.80" stroke="#222" stroke-width="0.7"/><path d="M184.30 380.82l-3.2 -1.7v3.4Z" fill="#111"/>
<path d="M41.400000000000006 389.99H42.7" stroke="#999" stroke-width="0.5"/>
<text x="40.10" y="391.99" font-size="5.50" text-anchor="end" fill="#111" stroke="#111" stroke-width="0.15">15</text>
<rect x="67.5" y="386.99" width="106.30" height="6.0" fill="#eef3fb" stroke="#858585" stroke-width="0.7"/>
<path d="M52.10 387.14L54.68 391.92H49.52Z" fill="#f2a72e"/>
<rect x="65.50" y="387.99" width="4.0" height="4.0" fill="#1f2a6e"/>
<path d="M174.70 389.99H182.80" stroke="#222" stroke-width="0.7"/><path d="M184.30 389.99l-3.2 -1.7v3.4Z" fill="#111"/>
<path d="M41.400000000000006 399.16H42.7" stroke="#999" stroke-width="0.5"/>
<text x="40.10" y="401.16" font-size="5.50" text-anchor="end" fill="#111" stroke="#111" stroke-width="0.15">2</text>
<rect x="67.5" y="396.16" width="91.80" height="6.0" fill="#c3d9ec" stroke="#858585" stroke-width="0.7"/>
<rect x="50.15" y="397.21" width="3.9" height="3.9" fill="#f2a72e"/>
<path d="M67.50 396.31L70.08 401.09H64.92Z" fill="#1f2a6e"/>
<path d="M159.30 396.56l2.3 2.6l-2.3 2.6l-2.3 -2.6Z" fill="#000"/>
<path d="M41.400000000000006 408.33H42.7" stroke="#999" stroke-width="0.5"/>
<text x="40.10" y="410.33" font-size="5.50" text-anchor="end" fill="#111" stroke="#111" stroke-width="0.15">3</text>
<rect x="67.5" y="405.33" width="86.70" height="6.0" fill="#62a8d6" stroke="#858585" stroke-width="0.7"/>
<path d="M52.10 405.48L54.68 410.26H49.52Z" fill="#f2a72e"/>
<path d="M67.50 405.48L70.08 410.26H64.92Z" fill="#1f2a6e"/>
<path d="M154.20 405.73l2.3 2.6l-2.3 2.6l-2.3 -2.6Z" fill="#000"/>
<path d="M41.400000000000006 417.50H42.7" stroke="#999" stroke-width="0.5"/>
<text x="40.10" y="419.50" font-size="5.50" text-anchor="end" fill="#111" stroke="#111" stroke-width="0.15">8</text>
<rect x="67.5" y="414.50" width="49.30" height="6.0" fill="#c3d9ec" stroke="#858585" stroke-width="0.7"/>
<path d="M52.10 414.65L54.68 419.43H49.52Z" fill="#f2a72e"/>
<path d="M67.50 414.65L70.08 419.43H64.92Z" fill="#1f2a6e"/>
<path d="M116.80 414.90l2.3 2.6l-2.3 2.6l-2.3 -2.6Z" fill="#000"/>
<path d="M41.400000000000006 426.67H42.7" stroke="#999" stroke-width="0.5"/>
<text x="40.10" y="428.67" font-size="5.50" text-anchor="end" fill="#111" stroke="#111" stroke-width="0.15">11</text>
<rect x="67.5" y="423.67" width="40.30" height="6.0" fill="#2171b5" stroke="#858585" stroke-width="0.7"/>
<path d="M52.10 423.82L54.68 428.60H49.52Z" fill="#f2a72e"/>
<rect x="65.50" y="424.67" width="4.0" height="4.0" fill="#1f2a6e"/>
<path d="M107.80 424.07l2.3 2.6l-2.3 2.6l-2.3 -2.6Z" fill="#000"/>
<path d="M41.400000000000006 435.84H42.7" stroke="#999" stroke-width="0.5"/>
<text x="40.10" y="437.84" font-size="5.50" text-anchor="end" fill="#111" stroke="#111" stroke-width="0.15">4</text>
<rect x="67.5" y="432.84" width="36.80" height="6.0" fill="#c3d9ec" stroke="#858585" stroke-width="0.7"/>
<rect x="50.15" y="433.89" width="3.9" height="3.9" fill="#f2a72e"/>
<path d="M67.50 432.99L70.08 437.77H64.92Z" fill="#1f2a6e"/>
<path d="M104.30 433.24l2.3 2.6l-2.3 2.6l-2.3 -2.6Z" fill="#000"/>
<path d="M41.400000000000006 445.01H42.7" stroke="#999" stroke-width="0.5"/>
<text x="40.10" y="447.01" font-size="5.50" text-anchor="end" fill="#111" stroke="#111" stroke-width="0.15">13</text>
<rect x="67.5" y="442.01" width="36.10" height="6.0" fill="#eef3fb" stroke="#858585" stroke-width="0.7"/>
<path d="M52.10 442.16L54.68 446.94H49.52Z" fill="#f2a72e"/>
<rect x="65.50" y="443.01" width="4.0" height="4.0" fill="#1f2a6e"/>
<path d="M103.60 442.41l2.3 2.6l-2.3 2.6l-2.3 -2.6Z" fill="#000"/>
<path d="M41.400000000000006 454.18H42.7" stroke="#999" stroke-width="0.5"/>
<text x="40.10" y="456.18" font-size="5.50" text-anchor="end" fill="#111" stroke="#111" stroke-width="0.15">14</text>
<rect x="67.5" y="451.18" width="32.50" height="6.0" fill="#c3d9ec" stroke="#858585" stroke-width="0.7"/>
<path d="M52.10 451.33L54.68 456.11H49.52Z" fill="#f2a72e"/>
<rect x="65.50" y="452.18" width="4.0" height="4.0" fill="#1f2a6e"/>
<path d="M100.00 451.58l2.3 2.6l-2.3 2.6l-2.3 -2.6Z" fill="#000"/>
<path d="M41.400000000000006 463.35H42.7" stroke="#999" stroke-width="0.5"/>
<text x="40.10" y="465.35" font-size="5.50" text-anchor="end" fill="#111" stroke="#111" stroke-width="0.15">19</text>
<rect x="67.5" y="460.35" width="16.00" height="6.0" fill="#c3d9ec" stroke="#858585" stroke-width="0.7"/>
<path d="M52.10 460.50L54.68 465.28H49.52Z" fill="#f2a72e"/>
<path d="M65.00 463.35h5.0M67.50 460.85v5.0" stroke="#7f9cc8" stroke-width="0.6" fill="none"/>
<path d="M83.50 460.75l2.3 2.6l-2.3 2.6l-2.3 -2.6Z" fill="#000"/>
<path d="M41.400000000000006 472.52H42.7" stroke="#999" stroke-width="0.5"/>
<text x="40.10" y="474.52" font-size="5.50" text-anchor="end" fill="#111" stroke="#111" stroke-width="0.15">9</text>
<rect x="67.5" y="469.52" width="13.30" height="6.0" fill="#c3d9ec" stroke="#858585" stroke-width="0.7"/>
<path d="M52.10 469.67L54.68 474.45H49.52Z" fill="#f2a72e"/>
<path d="M65.00 472.52h5.0M67.50 470.02v5.0" stroke="#7f9cc8" stroke-width="0.6" fill="none"/>
<path d="M80.80 469.92l2.3 2.6l-2.3 2.6l-2.3 -2.6Z" fill="#000"/>
<path d="M67.30 477.6v1.3" stroke="#999" stroke-width="0.5"/>
<text x="67.30" y="484.60" font-size="5.50" text-anchor="middle" fill="#111" stroke="#111" stroke-width="0.15">0</text>
<path d="M118.80 477.6v1.3" stroke="#999" stroke-width="0.5"/>
<text x="118.80" y="484.60" font-size="5.50" text-anchor="middle" fill="#111" stroke="#111" stroke-width="0.15">5</text>
<path d="M170.30 477.6v1.3" stroke="#999" stroke-width="0.5"/>
<text x="170.30" y="484.60" font-size="5.50" text-anchor="middle" fill="#111" stroke="#111" stroke-width="0.15">10</text>
<path d="M221.80 477.6v1.3" stroke="#999" stroke-width="0.5"/>
<text x="221.80" y="484.60" font-size="5.50" text-anchor="middle" fill="#111" stroke="#111" stroke-width="0.15">15</text>
<text x="101.50" y="498.50" font-size="10.36" text-anchor="start" fill="#111">Months on treatment</text>
<text transform="translate(22.5,399) rotate(-90)" font-size="10.60" text-anchor="middle" fill="#111">Patient</text>
<text x="262.10" y="407.90" font-size="9.30" text-anchor="start" fill="#111">Best CNS response</text>
<rect x="262.8" y="412.40" width="7.2" height="7.3" fill="#ffffff" stroke="#8f9aa6" stroke-width="0.6"/>
<text x="273.30" y="418.50" font-size="5.70" text-anchor="start" fill="#111" stroke="#111" stroke-width="0.18">NM</text>
<rect x="262.8" y="419.83" width="7.2" height="7.3" fill="#c3d9ec" stroke="#8f9aa6" stroke-width="0.6"/>
<text x="273.30" y="425.93" font-size="5.70" text-anchor="start" fill="#111" stroke="#111" stroke-width="0.18">PR</text>
<rect x="262.8" y="427.26" width="7.2" height="7.3" fill="#62a8d6" stroke="#8f9aa6" stroke-width="0.6"/>
<text x="273.30" y="433.36" font-size="5.70" text-anchor="start" fill="#111" stroke="#111" stroke-width="0.18">SD</text>
<rect x="262.8" y="434.69" width="7.2" height="7.3" fill="#2171b5" stroke="#8f9aa6" stroke-width="0.6"/>
<text x="273.30" y="440.79" font-size="5.70" text-anchor="start" fill="#111" stroke="#111" stroke-width="0.18">PD</text>
<text x="45.60" y="511.00" font-size="8.83" text-anchor="start" fill="#111">Baseline EC status</text>
<text x="145.80" y="511.00" font-size="8.85" text-anchor="start" fill="#111">Baseline BCBM status</text>
<text x="259.20" y="511.20" font-size="8.89" text-anchor="start" fill="#111">Data cut-off status</text>
<path d="M35.60 518.28L38.96 524.52H32.24Z" fill="#f0b428"/>
<rect x="32.70" y="529.10" width="5.8" height="5.8" fill="#f0b428"/>
<path d="M32.40 541.40h6.4M35.60 538.20v6.4" stroke="#f3c65a" stroke-width="0.7" fill="none"/>
<text x="46.70" y="524.30" font-size="7.74" text-anchor="start" fill="#111">PD</text>
<text x="46.70" y="534.50" font-size="7.74" text-anchor="start" fill="#111">SD</text>
<text x="46.70" y="544.40" font-size="7.74" text-anchor="start" fill="#111">Untreated</text>
<path d="M134.60 518.28L137.96 524.52H131.24Z" fill="#2e3a9e"/>
<rect x="131.70" y="529.10" width="5.8" height="5.8" fill="#2e3a9e"/>
<path d="M131.40 541.40h6.4M134.60 538.20v6.4" stroke="#4a59b5" stroke-width="0.7" fill="none"/>
<text x="145.80" y="524.30" font-size="7.74" text-anchor="start" fill="#111">PD</text>
<text x="145.80" y="534.50" font-size="7.74" text-anchor="start" fill="#111">SD</text>
<text x="145.80" y="544.40" font-size="7.74" text-anchor="start" fill="#111">Untreated</text>
<path d="M241.6 521.6H252" stroke="#111" stroke-width="0.8"/><path d="M254.6 521.6l-3.6 -1.9v3.8Z" fill="#111"/>
<path d="M248.1 528.8l2.8 1.6v3.2l-2.8 1.6l-2.8 -1.6v-3.2Z" fill="#000"/>
<text x="259.20" y="524.30" font-size="7.74" text-anchor="start" fill="#111">On study</text>
<text x="259.20" y="534.70" font-size="7.74" text-anchor="start" fill="#111">Off study</text>
</svg>
</body></html>
